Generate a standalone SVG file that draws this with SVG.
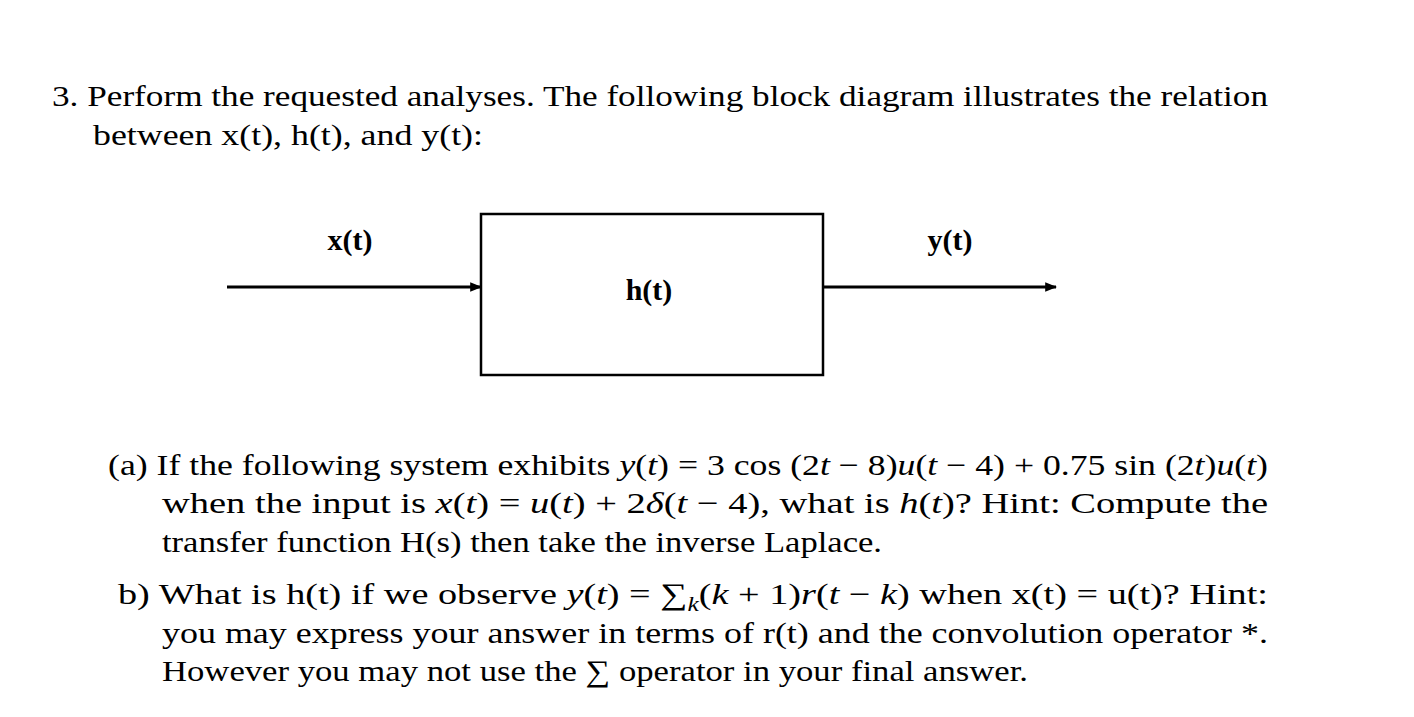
<svg xmlns="http://www.w3.org/2000/svg" width="1414" height="717" viewBox="0 0 1414 717">
<style>
.t{font-family:"Liberation Serif",serif;font-size:30px;fill:#000}
.i{font-style:italic}
.l{font-family:"Liberation Serif",serif;font-size:30px;font-weight:bold;fill:#000}
.c{stroke:#000;stroke-width:3;fill:none}
</style>
<defs><marker id="a" viewBox="0 0 10 10" refX="9" refY="5" markerWidth="4" markerHeight="4" orient="auto"><path d="M0,1L10,5L0,9z" fill="#000"/></marker></defs>
<rect width="1414" height="717" fill="#fff"/>
<text class="t" x="52" y="106" textLength="1216" lengthAdjust="spacingAndGlyphs">3. Perform the requested analyses. The following block diagram illustrates the relation</text>
<text class="t" x="93" y="145" textLength="390" lengthAdjust="spacingAndGlyphs">between x(t), h(t), and y(t):</text>
<g id="block"><rect x="481" y="214" width="342" height="161" fill="none" stroke="#000" stroke-width="2.5"/><text class="l" x="649" y="300" text-anchor="middle">h(t)</text></g>
<g id="xlabel"><text class="l" x="350" y="250" text-anchor="middle">x(t)</text></g>
<g id="ylabel"><text class="l" x="950" y="250" text-anchor="middle">y(t)</text></g>
<g id="connectors"><line class="c" x1="227" y1="287" x2="481" y2="287" marker-end="url(#a)"/><line class="c" x1="823" y1="287" x2="1056" y2="287" marker-end="url(#a)"/></g>
<text class="t" x="108" y="475" textLength="1160" lengthAdjust="spacingAndGlyphs">(a) If the following system exhibits <tspan class="i">y</tspan>(<tspan class="i">t</tspan>) = 3 cos (2<tspan class="i">t</tspan> − 8)<tspan class="i">u</tspan>(<tspan class="i">t</tspan> − 4) + 0.75 sin (2<tspan class="i">t</tspan>)<tspan class="i">u</tspan>(<tspan class="i">t</tspan>)</text>
<text class="t" x="162" y="513" textLength="1106" lengthAdjust="spacingAndGlyphs">when the input is <tspan class="i">x</tspan>(<tspan class="i">t</tspan>) = <tspan class="i">u</tspan>(<tspan class="i">t</tspan>) + 2<tspan class="i">δ</tspan>(<tspan class="i">t</tspan> − 4), what is <tspan class="i">h</tspan>(<tspan class="i">t</tspan>)? Hint: Compute the</text>
<text class="t" x="162" y="552" textLength="720" lengthAdjust="spacingAndGlyphs">transfer function H(s) then take the inverse Laplace.</text>
<text class="t" x="118" y="604" textLength="1150" lengthAdjust="spacingAndGlyphs">b) What is h(t) if we observe <tspan class="i">y</tspan>(<tspan class="i">t</tspan>) = ∑<tspan class="i" font-size="20" dy="7">k</tspan><tspan dy="-7">(</tspan><tspan class="i">k</tspan> + 1)<tspan class="i">r</tspan>(<tspan class="i">t</tspan> − <tspan class="i">k</tspan>) when x(t) = u(t)? Hint:</text>
<text class="t" x="162" y="643" textLength="1106" lengthAdjust="spacingAndGlyphs">you may express your answer in terms of r(t) and the convolution operator *.</text>
<text class="t" x="162" y="681" textLength="866" lengthAdjust="spacingAndGlyphs">However you may not use the ∑ operator in your final answer.</text>
</svg>
